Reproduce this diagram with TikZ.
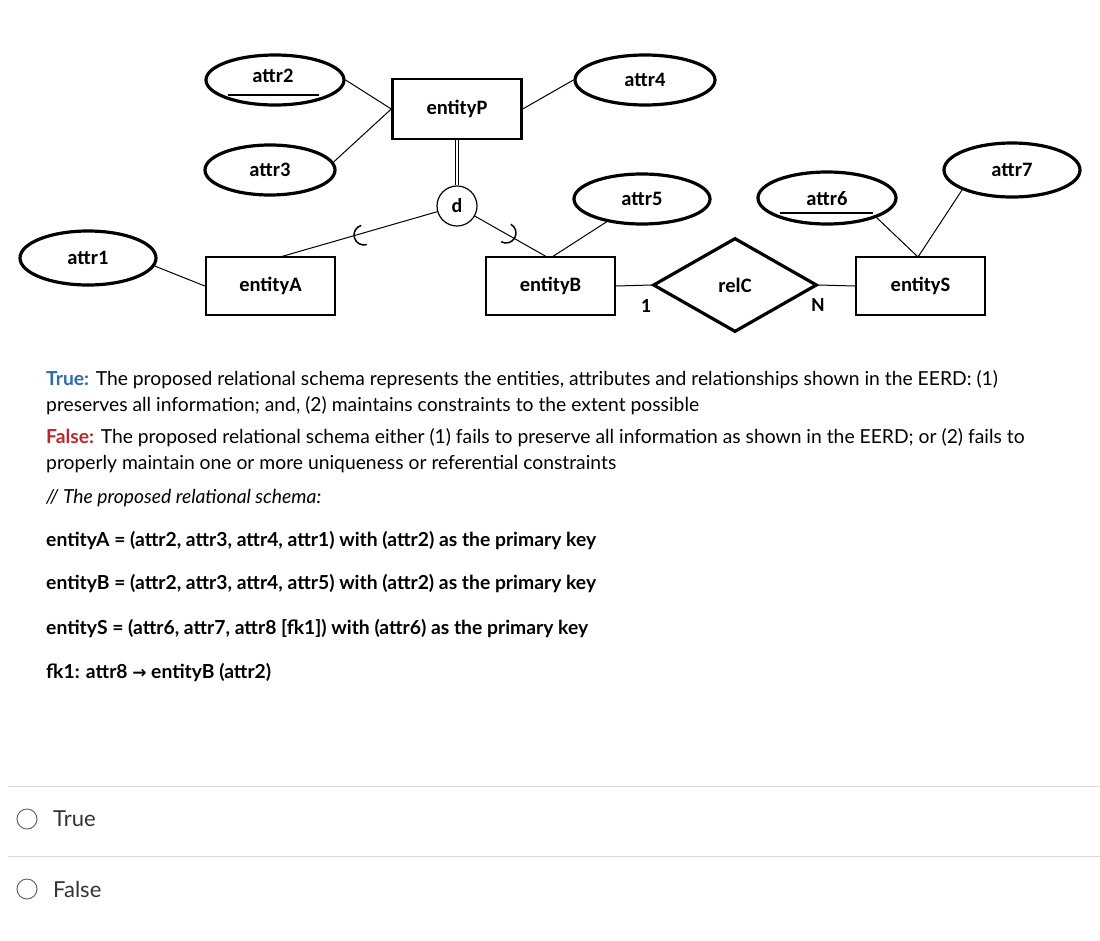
\documentclass[tikz,border=0pt]{standalone}
\usepackage{fontspec}
\setmainfont{Lato}
\newfontfamily\dfont{Carlito}
\usetikzlibrary{shapes.geometric}
\definecolor{tblue}{HTML}{2D6DB5}
\definecolor{tred}{HTML}{C0272D}
\begin{document}
\begin{tikzpicture}[x=1pt,y=1pt,
  dtext/.style={font=\dfont\bfseries\fontsize{20.5}{24}\selectfont},
  attrE/.style={draw,line width=3.2pt,ellipse,minimum width=#1,inner sep=0,dtext},
  ent/.style={draw,line width=2.4pt,minimum width=129,minimum height=58,dtext},
  conn/.style={line width=1pt},
  body/.style={anchor=base west,inner sep=0,font=\fontsize{19.3}{22}\selectfont},
  bbody/.style={anchor=base west,inner sep=0,font=\bfseries\fontsize{19.3}{22}\selectfont},
  lbl/.style={font=\dfont\bfseries\fontsize{20}{22}\selectfont}]
\useasboundingbox[fill=white] (0,0) rectangle (1100,-940);
\node[attrE=138,minimum height=50] (a2) at (275,-80) {};
\node[dtext] (a2t) at (273,-76) {attr2};
\draw[line width=2pt] (228,-95) -- (319,-95);
\node[attrE=130,minimum height=50] (a3) at (270,-170) {attr3};
\node[ent,minimum height=60] (P) at (457,-109) {entityP};
\node[attrE=140,minimum height=50] (a4) at (645,-80) {attr4};
\node[draw,circle,line width=1.2pt,minimum size=40,inner sep=0,lbl] (d) at (457,-206) {d};
\node[attrE=136,minimum height=50] (a5) at (642,-199) {attr5};
\node[attrE=138,minimum height=52] (a6) at (827,-198) {};
\node[dtext] (a6t) at (827,-199) {attr6};
\draw[line width=2pt] (780,-213) -- (873,-213);
\node[attrE=136,minimum height=54] (a7) at (1012,-170) {attr7};
\node[attrE=136,minimum height=54] (a1) at (88,-258) {attr1};
\node[ent] (A) at (270.5,-286) {entityA};
\node[ent] (B) at (550.5,-286) {entityB};
\node[ent] (S) at (920.5,-286) {entityS};
\node[draw,diamond,line width=3.2pt,minimum width=164,minimum height=94,inner sep=0,dtext] (C) at (735,-285) {relC};
\node[lbl] (one) at (646,-306) {1};
\node[lbl] (N) at (818,-305) {N};
\draw[conn] (a2.east) -- (P.west);
\draw[conn] (a3.east) ++(-3,8) -- (P.west);
\draw[conn] (a4.west) -- (P.east);
\draw[double,line width=0.8pt,double distance=2.5pt] (P.south) -- (d.north);
\coordinate (Atop) at (280,-257);
\coordinate (Btop) at (547,-257);
\draw[conn] (d) -- (Atop);
\draw[conn] (d) -- (Btop);
\draw[conn] (a5) -- (552,-257);
\draw[conn] (B.east) -- (C.west);
\draw[conn] (C.east) -- (S.west);
\draw[conn] (a1.east) ++(-3,-8) -- (A.west);
\draw[conn] (876,-217) -- (918,-257);
\draw[conn] (962,-190) -- (918,-257);
\draw[line width=1.5pt] ([shift={(106:10)}]364,-235) arc[start angle=106,end angle=286,radius=10];
\draw[line width=1.5pt] ([shift={(61.4:10)}]506,-233) arc[start angle=61.4,end angle=-118.6,radius=10];
% text
\node[body] (t1) at (46,-385) {\textcolor{tblue}{\textbf{True:}} The proposed relational schema represents the entities, attributes and relationships shown in the EERD: (1)};
\node[body] (t2) at (46,-411) {preserves all information; and, (2) maintains constraints to the extent possible};
\node[body] (t3) at (46,-443) {\textcolor{tred}{\textbf{False:}} The proposed relational schema either (1) fails to preserve all information as shown in the EERD; or (2) fails to};
\node[body] (t4) at (46,-469) {properly maintain one or more uniqueness or referential constraints};
\node[body] (t5) at (46,-503) {\itshape // The proposed relational schema:};
\node[bbody] (t6) at (46,-546) {entityA = (attr2, attr3, attr4, attr1) with (attr2) as the primary key};
\node[bbody] (t7) at (46,-589) {entityB = (attr2, attr3, attr4, attr5) with (attr2) as the primary key};
\node[bbody] (t8) at (46,-634) {entityS = (attr6, attr7, attr8 [fk1]) with (attr6) as the primary key};
\node[bbody] (t9) at (46,-678) {fk1: attr8 {\fontspec{DejaVu Sans}\bfseries\fontsize{17}{20}\selectfont→} entityB (attr2)};
\draw[black!15,line width=1pt] (8,-786) -- (1100,-786);
\draw[black!15,line width=1pt] (8,-856) -- (1100,-856);
\node[draw=black!60,circle,line width=1pt,minimum size=20,inner sep=0] (r1) at (27,-819) {};
\node[draw=black!60,circle,line width=1pt,minimum size=20,inner sep=0] (r2) at (27,-889) {};
\node[anchor=west,inner sep=0,font=\fontsize{22}{26}\selectfont,text=black!80] (l1) at (53,-819) {True};
\node[anchor=west,inner sep=0,font=\fontsize{22}{26}\selectfont,text=black!80] (l2) at (53,-889) {False};
\end{tikzpicture}
\end{document}
